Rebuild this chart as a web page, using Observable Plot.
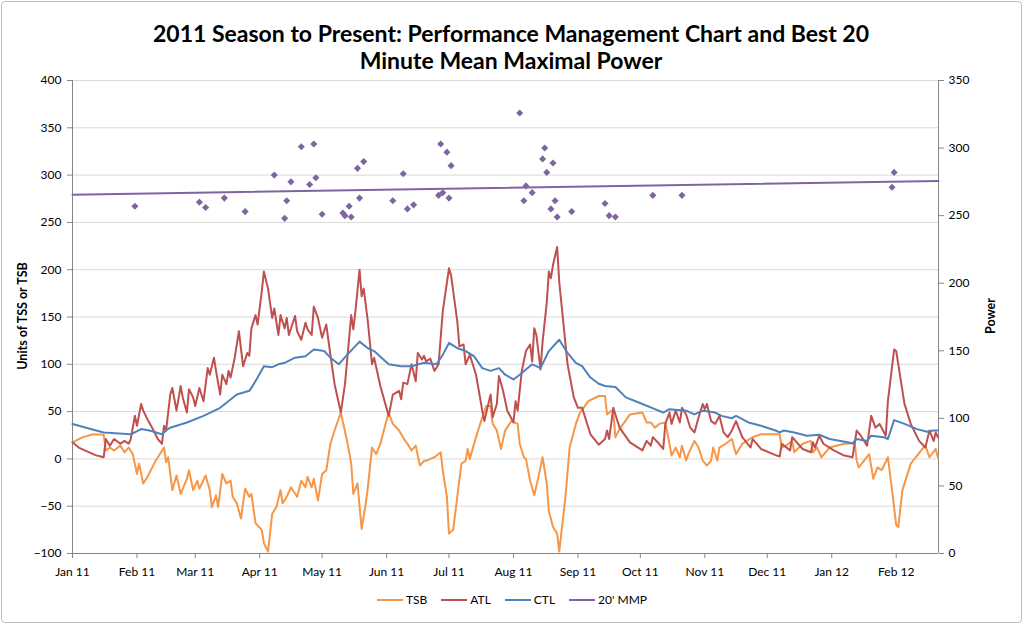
<!DOCTYPE html>
<html><head><meta charset="utf-8">
<script src="https://cdn.jsdelivr.net/npm/d3@7"></script>
<script src="https://cdn.jsdelivr.net/npm/@observablehq/plot@0.6"></script>
<style>
body{margin:0;background:#fff;font-family:Lato,"Noto Sans",sans-serif;color:#000;}
#frame{position:absolute;left:1px;top:1px;width:1019px;height:620px;border:1px solid #bfbfbf;border-radius:4px;}
#title{position:absolute;left:0;top:20px;width:1022px;text-align:center;font-weight:bold;font-size:23px;line-height:27px;}
#chart{position:absolute;left:0;top:70px;}
.ylab{position:absolute;font-weight:bold;font-size:12.5px;white-space:nowrap;transform:translate(-50%,-50%) rotate(-90deg);}
#legend{position:absolute;top:592px;left:0;width:1024px;display:flex;justify-content:center;gap:14px;font-size:12px;}
#legend .item{display:flex;align-items:center;}
#legend .sw{width:26px;height:2px;margin-right:3px;}
</style></head>
<body>
<div id="frame"></div>
<div id="title">2011 Season to Present: Performance Management Chart and Best 20<br>Minute Mean Maximal Power</div>
<div id="chart"></div>
<div class="ylab" style="left:22px;top:316px;">Units of TSS or TSB</div>
<div class="ylab" style="left:990px;top:316px;">Power</div>
<div id="legend"></div>
<script>
const leftTicks = [-100,-50,0,50,100,150,200,250,300,350,400];
const rightTicks = [0,50,100,150,200,250,300,350];
const monthTicks = ["2011-01-01","2011-02-01","2011-03-01","2011-04-01","2011-05-01","2011-06-01","2011-07-01","2011-08-01","2011-09-01","2011-10-01","2011-11-01","2011-12-01","2012-01-01","2012-02-01"];
const seriesNames = ["TSB","ATL","CTL","20' MMP"];
const seriesColors = ["#F79646","#C0504D","#4F81BD","#8064A2"];

const tsb = [["2011-01-01",17.5],["2011-01-06",23],["2011-01-11",26],["2011-01-16",25.6],["2011-01-17",8.8],["2011-01-19",12],["2011-01-21",8.8],["2011-01-24",14],["2011-01-26",7],["2011-01-28",12],["2011-01-30",5],["2011-02-01",-16],["2011-02-02",-5],["2011-02-04",-26],["2011-02-06",-19],["2011-02-10",-2],["2011-02-14",12],["2011-02-15",-3.5],["2011-02-16",1.75],["2011-02-18",-33],["2011-02-20",-17.5],["2011-02-22",-37],["2011-02-25",-21],["2011-02-26",-12],["2011-02-28",-33],["2011-03-02",-23],["2011-03-03",-31.5],["2011-03-06",-17.5],["2011-03-08",-33],["2011-03-09",-51],["2011-03-11",-38.5],["2011-03-12",-51],["2011-03-14",-16],["2011-03-16",-26],["2011-03-18",-23],["2011-03-19",-40],["2011-03-21",-47],["2011-03-23",-63],["2011-03-25",-31.5],["2011-03-27",-40],["2011-03-28",-37],["2011-03-30",-68],["2011-04-02",-75],["2011-04-03",-89],["2011-04-05",-98],["2011-04-07",-58],["2011-04-09",-51],["2011-04-11",-33],["2011-04-12",-47],["2011-04-14",-40],["2011-04-16",-30],["2011-04-19",-40],["2011-04-21",-23],["2011-04-23",-30],["2011-04-24",-19],["2011-04-26",-30],["2011-04-27",-21],["2011-04-29",-44],["2011-05-01",-16],["2011-05-03",-12],["2011-05-05",16],["2011-05-07",30],["2011-05-10",49],["2011-05-13",19],["2011-05-15",-5],["2011-05-16",-37],["2011-05-18",-26],["2011-05-20",-74],["2011-05-22",-47],["2011-05-23",-30],["2011-05-25",12],["2011-05-27",5],["2011-05-29",16],["2011-06-02",49],["2011-06-04",37],["2011-06-07",30],["2011-06-10",19],["2011-06-11",16],["2011-06-13",9],["2011-06-15",14],["2011-06-17",-7],["2011-06-19",-2],["2011-06-20",-2],["2011-06-22",0],["2011-06-24",1.75],["2011-06-27",7],["2011-06-28",-12],["2011-06-30",-40],["2011-07-01",-79],["2011-07-03",-75],["2011-07-05",-40],["2011-07-07",-5],["2011-07-09",-2],["2011-07-10",10.5],["2011-07-11",0],["2011-07-14",23],["2011-07-17",44],["2011-07-19",56],["2011-07-21",56],["2011-07-22",37],["2011-07-24",30],["2011-07-26",10.5],["2011-07-28",30],["2011-07-31",40],["2011-08-03",37],["2011-08-04",16],["2011-08-06",1.75],["2011-08-07",0],["2011-08-09",-23],["2011-08-11",-38.5],["2011-08-13",-19],["2011-08-15",1.75],["2011-08-17",-26],["2011-08-18",-55],["2011-08-20",-72],["2011-08-22",-79],["2011-08-23",-98],["2011-08-26",-40],["2011-08-28",12],["2011-08-31",37],["2011-09-02",49],["2011-09-06",61],["2011-09-11",66.5],["2011-09-14",66.5],["2011-09-15",47],["2011-09-17",51],["2011-09-18",49],["2011-09-19",23],["2011-09-21",31.5],["2011-09-26",47],["2011-10-02",49],["2011-10-04",38.5],["2011-10-06",38.5],["2011-10-08",33],["2011-10-10",37],["2011-10-13",38.5],["2011-10-15",16],["2011-10-16",3.5],["2011-10-18",12],["2011-10-20",1.75],["2011-10-21",14],["2011-10-23",-1.75],["2011-10-24",5],["2011-10-27",19],["2011-10-29",12],["2011-10-31",-1.75],["2011-11-02",-7],["2011-11-04",-1.75],["2011-11-05",12],["2011-11-07",-1.75],["2011-11-08",12],["2011-11-11",16],["2011-11-14",21],["2011-11-16",5],["2011-11-19",16],["2011-11-24",23],["2011-11-28",26],["2011-12-05",26],["2011-12-07",26],["2011-12-08",12],["2011-12-10",14],["2011-12-13",19],["2011-12-14",7],["2011-12-18",16],["2011-12-22",19],["2011-12-23",7],["2011-12-25",12],["2011-12-27",1.75],["2011-12-31",12],["2012-01-07",16],["2012-01-12",16.5],["2012-01-13",-1.75],["2012-01-14",-9],["2012-01-19",5],["2012-01-21",-21],["2012-01-23",-9],["2012-01-25",-12],["2012-01-28",1.75],["2012-01-30",-33],["2012-02-01",-70],["2012-02-02",-72],["2012-02-04",-33],["2012-02-08",-5],["2012-02-13",9],["2012-02-15",14],["2012-02-17",1.75],["2012-02-20",10.5],["2012-02-21",1.75]];

const atl = [["2011-01-01",17.5],["2011-01-04",12],["2011-01-08",8],["2011-01-12",4],["2011-01-16",1.75],["2011-01-17",21],["2011-01-19",14],["2011-01-21",21],["2011-01-24",16],["2011-01-26",19],["2011-01-28",16],["2011-01-29",21],["2011-01-31",45.5],["2011-02-01",35],["2011-02-03",58],["2011-02-04",51],["2011-02-06",42],["2011-02-09",30],["2011-02-11",21],["2011-02-13",16],["2011-02-14",35],["2011-02-15",30],["2011-02-17",68],["2011-02-18",75],["2011-02-20",51],["2011-02-22",77],["2011-02-23",65],["2011-02-25",49],["2011-02-26",73.6],["2011-02-28",65],["2011-03-01",56],["2011-03-03",75],["2011-03-05",61],["2011-03-07",96],["2011-03-08",89],["2011-03-10",107],["2011-03-11",93],["2011-03-13",68],["2011-03-14",89],["2011-03-16",79],["2011-03-17",93],["2011-03-18",86],["2011-03-20",107],["2011-03-22",135],["2011-03-24",98],["2011-03-26",112],["2011-03-27",109],["2011-03-28",138],["2011-03-30",152],["2011-03-31",142],["2011-04-02",177],["2011-04-03",198],["2011-04-05",180],["2011-04-07",149],["2011-04-08",159],["2011-04-10",131],["2011-04-11",152],["2011-04-13",138],["2011-04-14",149],["2011-04-15",131],["2011-04-18",151],["2011-04-19",135],["2011-04-21",126],["2011-04-23",144],["2011-04-24",137],["2011-04-26",131],["2011-04-27",161],["2011-04-29",149],["2011-05-01",128],["2011-05-03",142],["2011-05-05",110],["2011-05-07",79],["2011-05-10",49],["2011-05-12",79],["2011-05-15",152],["2011-05-16",137],["2011-05-17",156],["2011-05-19",200],["2011-05-20",172],["2011-05-21",180],["2011-05-23",145],["2011-05-25",100],["2011-05-26",107],["2011-05-29",77],["2011-06-02",45.5],["2011-06-04",68],["2011-06-07",72],["2011-06-08",63],["2011-06-09",80.6],["2011-06-11",79],["2011-06-13",100],["2011-06-15",82],["2011-06-16",112],["2011-06-18",105],["2011-06-19",109],["2011-06-20",103],["2011-06-22",106],["2011-06-24",93],["2011-06-26",100],["2011-06-28",156],["2011-07-01",201.5],["2011-07-02",194],["2011-07-05",145],["2011-07-06",119],["2011-07-08",121],["2011-07-09",100],["2011-07-11",110],["2011-07-14",89],["2011-07-17",51],["2011-07-18",40],["2011-07-21",68],["2011-07-22",44],["2011-07-24",58],["2011-07-25",87.6],["2011-07-27",72],["2011-07-29",51],["2011-07-30",47],["2011-08-01",38.5],["2011-08-02",61],["2011-08-03",51],["2011-08-05",93],["2011-08-07",114],["2011-08-09",121],["2011-08-10",103],["2011-08-11",138],["2011-08-12",131],["2011-08-14",94.6],["2011-08-15",124],["2011-08-17",165],["2011-08-18",198],["2011-08-19",191],["2011-08-20",205],["2011-08-22",224],["2011-08-23",187],["2011-08-27",100],["2011-08-30",65],["2011-09-01",54],["2011-09-03",54],["2011-09-07",26],["2011-09-11",15],["2011-09-14",21],["2011-09-15",30],["2011-09-16",21],["2011-09-18",54],["2011-09-21",33],["2011-09-26",17.5],["2011-10-02",9],["2011-10-04",19],["2011-10-06",14],["2011-10-07",23],["2011-10-10",16],["2011-10-12",10.5],["2011-10-13",37],["2011-10-15",49],["2011-10-16",37],["2011-10-18",51],["2011-10-20",38.5],["2011-10-21",54],["2011-10-23",47],["2011-10-25",33],["2011-10-27",28],["2011-10-29",44],["2011-10-31",58],["2011-11-01",52.6],["2011-11-02",58],["2011-11-04",40],["2011-11-06",37],["2011-11-08",45.5],["2011-11-10",28],["2011-11-12",23],["2011-11-14",30],["2011-11-16",40],["2011-11-19",23],["2011-11-23",12],["2011-11-24",21],["2011-11-28",10.5],["2011-12-05",4],["2011-12-07",2.5],["2011-12-08",16],["2011-12-12",9],["2011-12-13",23],["2011-12-18",10.5],["2011-12-22",7],["2011-12-23",17.5],["2011-12-24",12],["2011-12-26",24.5],["2011-12-28",16],["2012-01-02",9],["2012-01-07",3.5],["2012-01-11",1.75],["2012-01-13",30],["2012-01-15",24.5],["2012-01-18",14],["2012-01-20",45.5],["2012-01-22",33],["2012-01-24",37],["2012-01-27",24.5],["2012-01-28",61],["2012-01-31",115.6],["2012-02-01",114],["2012-02-05",58],["2012-02-08",37],["2012-02-12",19],["2012-02-15",12],["2012-02-17",30],["2012-02-19",19],["2012-02-20",28],["2012-02-21",23]];

const ctl = [["2011-01-01",36.8],["2011-01-16",28],["2011-01-29",26],["2011-02-03",31.5],["2011-02-07",30],["2011-02-13",26],["2011-02-15",30],["2011-02-17",33],["2011-02-25",38.5],["2011-03-05",45.5],["2011-03-13",54],["2011-03-21",68],["2011-03-27",72],["2011-03-28",75],["2011-03-31",86],["2011-04-03",98],["2011-04-07",97],["2011-04-10",100],["2011-04-13",101.6],["2011-04-18",107],["2011-04-23",108.6],["2011-04-27",115.6],["2011-05-02",114],["2011-05-05",107],["2011-05-09",100],["2011-05-13",110],["2011-05-19",124],["2011-05-23",117],["2011-05-26",114],["2011-06-02",100],["2011-06-08",98],["2011-06-13",98],["2011-06-19",101.6],["2011-06-25",100],["2011-06-28",110],["2011-07-01",122.6],["2011-07-05",117],["2011-07-09",114],["2011-07-13",108.6],["2011-07-17",96],["2011-07-21",93],["2011-07-25",96],["2011-07-28",89],["2011-08-01",84],["2011-08-04",89],["2011-08-10",100],["2011-08-14",96],["2011-08-18",114],["2011-08-23",126],["2011-08-27",112],["2011-08-31",101.6],["2011-09-03",98],["2011-09-07",86],["2011-09-11",79.5],["2011-09-14",77],["2011-09-19",76],["2011-09-24",65],["2011-10-02",58],["2011-10-08",52.6],["2011-10-12",49],["2011-10-15",52.6],["2011-10-23",51],["2011-10-27",47],["2011-10-31",51],["2011-11-06",49],["2011-11-09",45.5],["2011-11-14",43],["2011-11-16",45.5],["2011-11-22",38.5],["2011-11-28",35],["2011-12-05",30],["2011-12-07",28],["2011-12-09",30],["2011-12-14",28],["2011-12-20",24.5],["2011-12-26",25.5],["2011-12-31",21],["2012-01-06",18.6],["2012-01-11",16.5],["2012-01-13",21],["2012-01-18",19],["2012-01-20",24.5],["2012-01-26",23],["2012-01-28",21],["2012-01-31",41],["2012-02-05",37],["2012-02-11",31.5],["2012-02-16",28.7],["2012-02-19",30],["2012-02-21",30]];

const mmp = [["2011-01-31",257],["2011-03-03",260],["2011-03-06",256],["2011-03-15",263],["2011-03-25",253],["2011-04-08",280],["2011-04-13",248],["2011-04-14",261],["2011-04-16",275],["2011-04-21",301],["2011-04-25",273],["2011-04-27",303],["2011-04-28",278],["2011-05-01",251],["2011-05-11",252],["2011-05-12",250],["2011-05-14",257],["2011-05-15",249],["2011-05-18",285],["2011-05-19",263],["2011-05-21",290],["2011-06-04",261],["2011-06-09",281],["2011-06-11",255],["2011-06-14",258],["2011-06-26",265],["2011-06-27",303],["2011-06-28",267],["2011-06-30",297],["2011-07-01",263],["2011-07-02",287],["2011-08-04",326],["2011-08-06",261],["2011-08-07",272],["2011-08-10",267],["2011-08-15",292],["2011-08-16",300],["2011-08-17",282],["2011-08-19",255],["2011-08-20",289],["2011-08-21",261],["2011-08-22",249],["2011-08-29",253],["2011-09-14",259],["2011-09-16",250],["2011-09-19",249],["2011-10-07",265],["2011-10-21",265],["2012-01-30",271],["2012-01-31",282]];

const parse = d3.utcParse("%Y-%m-%d");
const rows = (arr) => arr.map(([d, v]) => ({date: parse(d), value: v}));
const tsbRows = rows(tsb), atlRows = rows(atl), ctlRows = rows(ctl), mmpRows = rows(mmp);
const xDomain = [parse("2011-01-01"), new Date(Date.UTC(2012, 1, 21, 8))];
// right axis (Power 0–350) mapped onto left axis (-100–400)
const toLeft = r => -100 + r * 500 / 350;
const toRight = l => (l + 100) * 350 / 500;

// linear trendline (least squares) of MMP over time, spanning the axis
const xs = mmpRows.map(d => +d.date), ys = mmpRows.map(d => d.value);
const mx = d3.mean(xs), my = d3.mean(ys);
const slope = d3.sum(xs, (x, i) => (x - mx) * (ys[i] - my)) / d3.sum(xs, x => (x - mx) ** 2);
const trend = xDomain.map(d => ({date: d, value: my + slope * (+d - mx)}));

const chart = Plot.plot({
  width: 1024, height: 520,
  marginLeft: 72, marginRight: 86, marginTop: 10, marginBottom: 37,
  x: {type: "utc", domain: xDomain},
  y: {domain: [-100, 400]},
  style: {fontFamily: "Lato, 'Noto Sans', sans-serif", fontSize: "12px", color: "#000", background: "transparent"},
  marks: [
    Plot.gridY(leftTicks.slice(1), {stroke: "#d9d9d9", strokeOpacity: 1, strokeWidth: 1}),
    Plot.axisY(leftTicks, {anchor: "left", tickSize: 5, tickPadding: 6, label: null, stroke: "#868686", fill: "#000"}),
    Plot.axisY(rightTicks.map(toLeft), {anchor: "right", tickSize: 5, tickPadding: 5, label: null, stroke: "#868686", fill: "#000", tickFormat: v => String(Math.round(toRight(v)))}),
    Plot.axisX(monthTicks.map(parse), {tickSize: 5, tickPadding: 9, label: null, stroke: "#868686", fill: "#000", tickFormat: d3.utcFormat("%b %y")}),
    Plot.ruleX([xDomain[0], xDomain[1]], {stroke: "#868686"}),
    Plot.ruleY([-100], {stroke: "#868686"}),
    Plot.line(tsbRows, {x: "date", y: "value", stroke: seriesColors[0], strokeWidth: 2}),
    Plot.line(atlRows, {x: "date", y: "value", stroke: seriesColors[1], strokeWidth: 2}),
    Plot.line(ctlRows, {x: "date", y: "value", stroke: seriesColors[2], strokeWidth: 2}),
    Plot.line(trend, {x: "date", y: d => toLeft(d.value), stroke: seriesColors[3], strokeWidth: 2}),
    Plot.dot(mmpRows, {x: "date", y: d => toLeft(d.value), symbol: "diamond2", fill: seriesColors[3], stroke: "none", r: 3.2})
  ]
});
document.getElementById("chart").appendChild(chart);

const legend = document.getElementById("legend");
seriesNames.forEach((n, i) => {
  const it = document.createElement("div"); it.className = "item";
  const sw = document.createElement("div"); sw.className = "sw"; sw.style.background = seriesColors[i];
  const t = document.createElement("span"); t.textContent = n;
  it.appendChild(sw); it.appendChild(t); legend.appendChild(it);
});
</script>
</body></html>
